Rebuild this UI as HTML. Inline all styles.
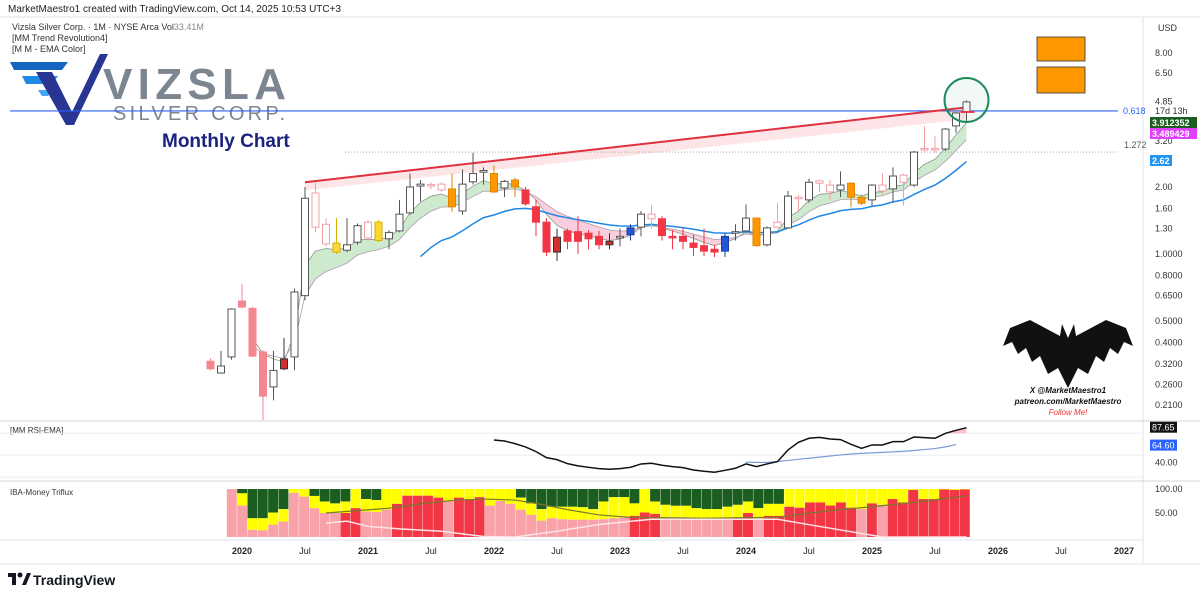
<!DOCTYPE html>
<html><head><meta charset="utf-8"><style>
html,body{margin:0;padding:0;background:#fff;width:1200px;height:600px;overflow:hidden;font-family:"Liberation Sans",sans-serif;}
svg{display:block}
</style></head><body>
<svg id="c" width="1200" height="600" viewBox="0 0 1200 600" xmlns="http://www.w3.org/2000/svg">
<rect x="0" y="0" width="1200" height="600" fill="#fff"/>
<text x="8" y="12" font-size="10" fill="#222">MarketMaestro1 created with TradingView.com, Oct 14, 2025 10:53 UTC+3</text>
<line x1="0" y1="17" x2="1200" y2="17" stroke="#e0e3eb"/>
<line x1="0" y1="564" x2="1200" y2="564" stroke="#e0e3eb"/>
<line x1="1143" y1="17" x2="1143" y2="564" stroke="#e0e3eb"/>
<line x1="0" y1="421" x2="1200" y2="421" stroke="#d1d4dc"/>
<line x1="0" y1="481" x2="1200" y2="481" stroke="#d1d4dc"/>
<line x1="0" y1="540" x2="1143" y2="540" stroke="#e0e3eb"/>
<text x="12" y="30" font-size="9" fill="#333">Vizsla Silver Corp. · 1M · NYSE Arca  Vol<tspan fill="#888">33.41M</tspan></text>
<text x="12" y="41" font-size="9" fill="#333">[MM Trend Revolution4]</text>
<text x="12" y="52" font-size="9" fill="#333">[M M - EMA Color]</text>
<g>
<polygon points="10,62 68,62 62,70 14,70" fill="#1565c0"/>
<polygon points="22,76 58,76 52,84 26,84" fill="#1e88e5"/>
<polygon points="38,90 52,90 48,96 42,96" fill="#42a5f5"/>
<polygon points="36,72 52,72 72,112 100,54 108,54 74,125 66,125" fill="#283593"/>
<text x="103" y="99" font-size="44" fill="#7b8691" font-weight="bold" textLength="183" lengthAdjust="spacing">VIZSLA</text>
<text x="113" y="120" font-size="20" fill="#7b8691" textLength="172" lengthAdjust="spacing">SILVER CORP.</text>
</g>
<text x="162" y="147" font-size="19" fill="#1a237e" font-weight="bold">Monthly Chart</text>
<rect x="1037" y="37" width="48" height="24" fill="#ff9800" stroke="#333" stroke-width="0.8"/>
<rect x="1037" y="67" width="48" height="26" fill="#ff9800" stroke="#333" stroke-width="0.8"/>
<g id="main"></g>
<g id="rsi"></g>
<g id="tri"></g>
<g id="axes"></g>
<g>
<polygon points="1068,338 1062,324 1060,336 1045,328 1030,320 1010,328 1003,346 1012,342 1018,354 1026,348 1032,362 1040,356 1048,374 1058,368 1068,388 1078,368 1088,374 1096,356 1104,362 1110,348 1118,354 1124,342 1133,346 1126,328 1106,320 1091,328 1076,336 1074,324" fill="#111"/>
<text x="1068" y="393" font-size="8" text-anchor="middle" fill="#111" font-style="italic" font-weight="bold">X @MarketMaestro1</text>
<text x="1068" y="404" font-size="8" text-anchor="middle" fill="#111" font-style="italic" font-weight="bold">patreon.com/MarketMaestro</text>
<text x="1068" y="415" font-size="8" text-anchor="middle" fill="#e53935" font-style="italic">Follow Me!</text>
</g>
<g>
<rect x="8" y="573" width="8" height="4" fill="#131722"/><rect x="12" y="573" width="4" height="12" fill="#131722"/>
<circle cx="20" cy="575" r="2.5" fill="#131722"/><polygon points="22,585 27,573 31,573 26,585" fill="#131722"/>
<text x="33" y="585" font-size="14" font-weight="bold" fill="#131722">TradingView</text>
</g>
</svg>
<script>
// ---- data ----
const candleOpen  = [.33,.292,.345,.615,.57,.363,.253,.338,.345,.65,1.88,1.36,1.12,1.04,1.13,1.39,1.39,1.17,1.27,1.53,2.02,2.05,2.06,1.96,1.56,2.11,2.33,2.3,1.98,2.15,1.94,1.63,1.39,1.19,1.27,1.26,1.24,1.20,1.14,1.18,1.22,1.32,1.51,1.44,1.20,1.20,1.12,1.09,1.05,1.03,1.25,1.27,1.45,1.10,1.39,1.31,1.80,1.75,2.13,2.04,1.94,2.08,1.80,1.75,2.04,1.96,2.26,2.04,2.98,2.98,2.96,3.76,4.34];
const candleClose = [.305,.314,.566,.578,.348,.23,.30,.305,.675,1.78,1.32,1.11,1.02,1.10,1.34,1.18,1.15,1.25,1.51,2.0,2.06,2.04,1.94,1.63,2.06,2.3,2.37,1.9,2.12,2.0,1.68,1.39,1.02,1.02,1.14,1.14,1.17,1.10,1.10,1.20,1.31,1.51,1.44,1.21,1.19,1.14,1.07,1.03,1.02,1.20,1.26,1.45,1.09,1.31,1.32,1.82,1.78,2.10,2.08,1.90,2.04,1.80,1.69,2.04,1.92,2.24,2.10,2.87,2.94,2.94,3.64,4.30,4.82];
const candleHigh  = [.34,.367,.57,.73,.58,.37,.367,.42,.70,2.0,2.1,1.45,1.45,1.45,1.37,1.42,1.42,1.28,1.75,2.3,2.15,2.10,2.10,2.30,2.40,2.85,2.45,2.5,2.15,2.2,2.0,1.75,1.45,1.30,1.30,1.48,1.28,1.27,1.24,1.30,1.36,1.56,1.66,1.48,1.28,1.32,1.22,1.30,1.10,1.24,1.36,1.67,1.45,1.33,1.70,1.92,1.85,2.18,2.15,2.15,2.35,2.10,1.85,2.06,2.30,2.45,2.30,2.90,3.75,3.40,3.68,4.35,4.90];
const candleLow   = [.30,.29,.335,.57,.345,.18,.22,.30,.30,.62,1.25,1.08,1.0,1.02,1.10,1.15,1.13,1.05,1.25,1.50,1.72,1.95,1.90,1.55,1.50,2.05,2.05,1.88,1.80,1.80,1.65,1.20,.98,.93,1.05,1.0,1.05,1.05,1.05,1.08,1.15,1.20,1.30,1.15,1.05,1.05,.98,.98,.97,.97,1.15,1.24,1.08,1.08,1.30,1.30,1.55,1.70,1.90,1.75,1.80,1.62,1.66,1.64,1.85,1.70,1.65,2.0,2.85,2.85,2.90,3.50,3.90];
const candleStyle = ['l','w','w','l','l','l','w','R','w','w','p','p','y','w','w','p','y','w','w','w','w','p','p','o','w','w','w','o','w','o','r','r','r','R','r','r','r','r','R','w','b','w','p','r','r','r','r','r','r','b','w','w','o','w','p','w','p','w','p','p','w','o','o','w','p','w','p','w','p','p','w','w','w'];
const firstMonth = -3; // Oct 2019 relative to Jan 2020
const trendMonths = [9, 70];
const trendPrices = [2.10, 4.44];
const fibLevel = 4.39, fibLabel = '0.618';
const extLevel = 2.87, extLabel = '1.272';
const priceTicks = [8.00,6.50,4.85,2.00,1.60,1.30,1.0000,0.8000,0.6500,0.5000,0.4000,0.3200,0.2600,0.2100];
const priceTickLabels = ['8.00','6.50','4.85','2.00','1.60','1.30','1.0000','0.8000','0.6500','0.5000','0.4000','0.3200','0.2600','0.2100'];
const timeTickMonths = [0,6,12,18,24,30,36,42,48,54,60,66,72,78,84];
const timeTickLabels = ['2020','Jul','2021','Jul','2022','Jul','2023','Jul','2024','Jul','2025','Jul','2026','Jul','2027'];
const rsiStart = 28; // candle number (1-based)
const rsiValues = [70.9,69.5,65.9,61.4,55.0,46.8,44.1,38.6,35.5,33.6,31.8,30.9,31.8,33.6,38.2,39.1,36.4,34.5,33.2,30.0,28.2,26.8,29.5,32.3,38.2,34.5,38.2,41.4,57.3,67.7,73.2,74.5,72.3,71.4,65.0,59.5,64.1,64.1,68.6,68.6,75.0,74.1,73.2,80.0,84.1,87.65];
const rsiSignalStart = 52;
const rsiSignal = [40.5,40.3,40.2,41.5,43,44.5,46,47.5,49,50.5,51.8,52.6,53.3,54,54.7,55.5,56.5,57.8,59.2,61.5,64.6];
const triStartX = 232, triEndX = 965;
const triBase = [100,65.5,15,14,25.5,32,92,84,60,50,50,50,60,53,52,57,69,86,86,86,82,74,82,79,83,65.5,75,69,57,46,34,39,37,36,36,36,37,39,41,44,51,48,41,41,41,39,39,39,39,41,50,39,44,44,63,61,72,72,65.5,72,61,58,70,67,79,72,98,79,79,99,98,99];
const triBaseColor = ['p','p','p','p','p','p','p','p','p','p','p','r','r','p','p','p','r','r','r','r','r','p','r','r','r','p','p','p','p','p','p','p','p','p','p','p','p','p','p','r','r','r','p','p','p','p','p','p','p','r','r','p','r','r','r','r','r','r','r','r','r','p','r','p','r','r','r','r','r','r','r','r'];
const triYellow = [100,91,39,39,51,58,100,100,85.5,74,70,74,100,79,77,100,100,100,100,100,100,100,100,100,100,100,100,100,82,70,58,63,63,63,62,58,74,83,83,70,100,74,67,65,65,60,58,58,63,67,74,60,69,69,100,100,100,100,100,100,100,100,100,100,100,100,100,100,100,100,100,100];
const triOliveMonths = [12,15,18,21,24,27,30,32,35,38,41,48,55,60,64,68,73];
const triOliveValues = [50,55,60,69,76,79,77,70,57,46,41,39,41,55,63,72,86];
const triWhiteMonths = [12,14,16,19,23,27,30,34,38,43,51,55,59,65,73];
const triWhiteValues = [29,33,22,17,12,1,0,12,26,37,37,37,22,0,0];

// ---- scales ----
const NS='http://www.w3.org/2000/svg';
function xCandle(n){return 242+10.5*(n-1+firstMonth);}
function xMonth(m){return 242+10.5*m;}
function yP(p){return 254-96.7*Math.log(p);}
function yR(v){return 433.3+(80-v)*0.733;}
function yT(v){return 537-v*0.48;}
const triStep=(triEndX-triStartX)/(triBase.length-1);
function xTri(k){return triStartX+k*triStep;}
function mk(parent,tag,attrs){const e=document.createElementNS(NS,tag);for(const k in attrs)e.setAttribute(k,attrs[k]);parent.appendChild(e);return e;}
const main=document.getElementById('main'),rsi=document.getElementById('rsi'),tri=document.getElementById('tri'),axes=document.getElementById('axes');

let el=mk(main,'line',{x1:10,x2:1118,y1:yP(fibLevel),y2:yP(fibLevel),stroke:'#2962ff','stroke-width':1.2});


el=mk(main,'text',{x:1123,y:yP(fibLevel)+3,'font-size':9,fill:'#2962ff'});el.textContent=fibLabel;


el=mk(main,'line',{x1:345,x2:1118,y1:yP(extLevel),y2:yP(extLevel),stroke:'#999','stroke-width':0.8,'stroke-dasharray':'1,2'});


el=mk(main,'text',{x:1124,y:yP(extLevel)-4,'font-size':9,fill:'#555'});el.textContent=extLabel;



const tx1=xCandle(trendMonths[0]+1),tx2=xCandle(trendMonths[1]+1)+20;
const slope=(Math.log(trendPrices[1])-Math.log(trendPrices[0]))/(trendMonths[1]-trendMonths[0]);
const endP=Math.exp(Math.log(trendPrices[0])+slope*(trendMonths[1]-trendMonths[0]+2));
el=mk(main,'polygon',{points:`${tx1},${yP(trendPrices[0])} ${tx2},${yP(endP)} ${tx2},${yP(endP)+12} ${tx1},${yP(trendPrices[0])+8}`,fill:'rgba(242,54,69,0.13)'});


el=mk(main,'line',{x1:tx1,y1:yP(trendPrices[0]),x2:tx2,y2:yP(endP),stroke:'#e0303e','stroke-width':2});



function ema(arr,n){const a=2/(n+1);const out=[];let v=arr[0];for(let i=0;i<arr.length;i++){v=i?a*arr[i]+(1-a)*v:arr[0];out.push(v);}return out;}
const eFast=ema(candleClose,5),eSlow=ema(candleClose,10);
for(let i=9;i<candleClose.length-1;i++){
  const up=eFast[i+1]>=eSlow[i+1];
  el=mk(main,'polygon',{points:`${xCandle(i+1)},${yP(eFast[i])} ${xCandle(i+2)},${yP(eFast[i+1])} ${xCandle(i+2)},${yP(eSlow[i+1])} ${xCandle(i+1)},${yP(eSlow[i])}`,fill:up?'rgba(76,175,80,0.28)':'rgba(233,30,99,0.22)'});
  
  
}
let ptsF='',ptsS='';
for(let i=4;i<candleClose.length;i++){ptsF+=`${xCandle(i+1)},${yP(eFast[i])} `;ptsS+=`${xCandle(i+1)},${yP(eSlow[i])} `;}
el=mk(main,'polyline',{points:ptsF,fill:'none',stroke:'#8a9a8a','stroke-width':0.8});


el=mk(main,'polyline',{points:ptsS,fill:'none',stroke:'#b39ab0','stroke-width':0.8});


let sm=0;for(let i=0;i<21;i++)sm+=candleClose[i];let e21=sm/21;let ptsB=`${xCandle(21)},${yP(e21)} `;
for(let i=21;i<candleClose.length;i++){e21=candleClose[i]*2/22+e21*20/22;ptsB+=`${xCandle(i+1)},${yP(e21)} `;}
el=mk(main,'polyline',{points:ptsB,fill:'none',stroke:'#1e88e5','stroke-width':1.5});



const st={w:['#fff','#555'],p:['#fff','#f2a0a6'],l:['#f4868f','#f4868f'],r:['#f23645','#f23645'],R:['#d32f2f','#333'],y:['#fdd835','#d4b000'],o:['#ff9800','#e08600'],b:['#2457d6','#1a3fa0']};
for(let i=0;i<candleOpen.length;i++){
  const x=xCandle(i+1),c=st[candleStyle[i]];
  el=mk(main,'line',{x1:x,x2:x,y1:yP(candleHigh[i]),y2:yP(candleLow[i]),stroke:c[1],'stroke-width':1});
  
  
  const t=Math.min(yP(candleOpen[i]),yP(candleClose[i])),h=Math.max(1.5,Math.abs(yP(candleOpen[i])-yP(candleClose[i])));
  el=mk(main,'rect',{x:x-3.5,y:t,width:7,height:h,fill:c[0],stroke:c[1],'stroke-width':1});
  
  
}
el=mk(main,'line',{x1:xCandle(73)-6,x2:xCandle(73)+8,y1:yP(fibLevel)+1,y2:yP(fibLevel)+1,stroke:'#f23645','stroke-width':2});


el=mk(main,'circle',{cx:xCandle(73),cy:100,r:22,fill:'rgba(27,138,90,0.06)',stroke:'#1b8a5a','stroke-width':2});



el=mk(axes,'text',{x:1158,y:31,'font-size':9,fill:'#333'});el.textContent='USD';


for(let i=0;i<priceTicks.length;i++){
  el=mk(axes,'text',{x:1155,y:yP(priceTicks[i])+3,'font-size':9,fill:'#333'});el.textContent=priceTickLabels[i];
  
  
}
el=mk(axes,'text',{x:1155,y:114,'font-size':9,fill:'#333'});el.textContent='17d 13h';


el=mk(axes,'text',{x:1155,y:144,'font-size':9,fill:'#333'});el.textContent='3.20';


const tags=[[117,'#1b5e20','3.912352'],[128,'#e040fb','3.489429'],[155,'#2196f3','2.62']];
for(const tg of tags){
  el=mk(axes,'rect',{x:1150,y:tg[0],width:tg[2].length>5?47:22,height:11,fill:tg[1]});
  
  
  el=mk(axes,'text',{x:1152,y:tg[0]+9,'font-size':9,fill:'#fff','font-weight':'bold'});el.textContent=tg[2];
  
  
}

el=mk(rsi,'text',{x:10,y:433,'font-size':8,fill:'#333'});el.textContent='[MM RSI-EMA]';


for(const lv of [80,50,20]){
  el=mk(rsi,'line',{x1:0,x2:1143,y1:yR(lv),y2:yR(lv),stroke:'#eceef2','stroke-width':1});
  
  
}
let rp='';for(let k=0;k<rsiValues.length;k++)rp+=`${xCandle(rsiStart+k)},${yR(rsiValues[k])} `;
let fp='';for(let k=0;k<rsiValues.length;k++){if(rsiValues[k]>=80||(rsiValues[k+1]>=80)){fp+=`${xCandle(rsiStart+k)},${yR(Math.max(80,rsiValues[k]))} `;}}
el=mk(rsi,'polygon',{points:fp+`${xCandle(rsiStart+rsiValues.length-1)},${yR(80)} ${xCandle(rsiStart+rsiValues.length-3)},${yR(80)}`,fill:'rgba(242,54,69,0.3)'});


let sp='';for(let k=0;k<rsiSignal.length;k++)sp+=`${xCandle(rsiSignalStart+k)},${yR(rsiSignal[k])} `;
el=mk(rsi,'polyline',{points:sp,fill:'none',stroke:'#7b9bd8','stroke-width':1.2});


el=mk(rsi,'polyline',{points:rp,fill:'none',stroke:'#111','stroke-width':1.5});


el=mk(rsi,'rect',{x:1150,y:yR(87.65)-6,width:27,height:11,fill:'#111'});


el=mk(rsi,'text',{x:1152,y:yR(87.65)+3,'font-size':9,fill:'#fff'});el.textContent='87.65';


el=mk(rsi,'rect',{x:1150,y:yR(64.6)-5,width:27,height:11,fill:'#2962ff'});


el=mk(rsi,'text',{x:1152,y:yR(64.6)+4,'font-size':9,fill:'#fff'});el.textContent='64.60';


el=mk(rsi,'text',{x:1155,y:yR(40)+3,'font-size':9,fill:'#333'});el.textContent='40.00';



el=mk(tri,'text',{x:10,y:495,'font-size':8,fill:'#333'});el.textContent='IBA-Money Triflux';


for(let k=0;k<triBase.length;k++){
  const w=triStep,x=xTri(k)-w/2;
  el=mk(tri,'rect',{x:x,y:yT(100),width:w,height:yT(triYellow[k])-yT(100),fill:'#1b5e20'});
  
  
  el=mk(tri,'rect',{x:x,y:yT(triYellow[k]),width:w,height:yT(triBase[k])-yT(triYellow[k]),fill:'#ffff00'});
  
  
  el=mk(tri,'rect',{x:x,y:yT(triBase[k]),width:w,height:yT(0)-yT(triBase[k]),fill:triBaseColor[k]==='r'?'#f23645':'#f8a1a8'});
  
  
  el=mk(tri,'line',{x1:x+w,x2:x+w,y1:yT(100),y2:yT(0),stroke:'#fff','stroke-width':0.8});
  
  
}
let op='';for(let k=0;k<triOliveMonths.length;k++)op+=`${xCandle(triOliveMonths[k])},${yT(triOliveValues[k])} `;
el=mk(tri,'polyline',{points:op,fill:'none',stroke:'#7a7a2a','stroke-width':1.2});


let wp='';for(let k=0;k<triWhiteMonths.length;k++)wp+=`${xCandle(triWhiteMonths[k])},${yT(triWhiteValues[k])} `;
el=mk(tri,'polyline',{points:wp,fill:'none',stroke:'#fde4e6','stroke-width':1.5});


for(const v of [100,50]){
  el=mk(tri,'text',{x:1155,y:yT(v)+3,'font-size':9,fill:'#333'});el.textContent=v.toFixed(2);
  
  
}

for(let i=0;i<timeTickMonths.length;i++){
  el=mk(axes,'text',{x:xMonth(timeTickMonths[i]),y:554,'font-size':9,'text-anchor':'middle',fill:'#222','font-weight':timeTickLabels[i]==='Jul'?'normal':'bold'});
  el.textContent=timeTickLabels[i];
  
  
}
</script>
</body></html>
